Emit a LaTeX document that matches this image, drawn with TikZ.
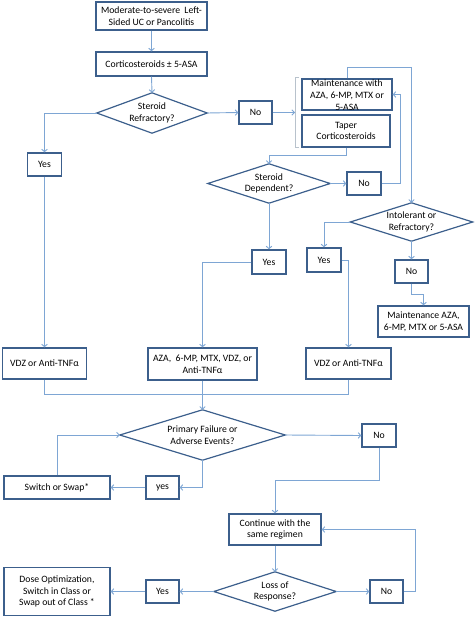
\documentclass[tikz,border=0pt]{standalone}
\usepackage{fontspec}
\setmainfont{Carlito}
\usetikzlibrary{arrows.meta}
\definecolor{boxc}{HTML}{3C5F8C}
\definecolor{connc}{HTML}{7EA6D4}
\definecolor{brkc}{HTML}{B8C2CC}
\begin{document}
\begin{tikzpicture}[x=1pt,y=-1pt,
  font=\fontsize{9.7}{11.7}\selectfont,
  box/.style={draw=boxc,line width=1.2pt,rectangle,align=center,inner sep=1pt,fill=white},
  dia/.style={rectangle,align=center,inner sep=0pt},
  diaedge/.style={draw=boxc,line width=1.2pt,line join=miter},
  lbl/.style={align=center,inner sep=0pt},
  conn/.style={draw=connc,line width=0.9pt,-{Straight Barb[length=2.6pt,width=5.5pt]}},
  link/.style={draw=connc,line width=0.9pt}]
\useasboundingbox (0,0) rectangle (474,617);
% nodes
\node[box,minimum width=111,minimum height=28] (b1) at (151.5,16) {Moderate-to-severe\ \ Left-\\Sided UC or Pancolitis};
\node[box,minimum width=111,minimum height=24] (b2) at (151.5,64) {Corticosteroids ± 5-ASA};
\node[dia,minimum width=110,minimum height=40] (d1) at (152,113) {Steroid\\Refractory?};
\node[box,minimum width=33,minimum height=23] (no1) at (255.5,112.5) {No};
\node[box,minimum width=90,minimum height=31] (maint) at (347,94.5) {};
\node[lbl] (maintt) at (347,95) {Maintenance with\\AZA, 6-MP, MTX or\\5-ASA};
\node[box,minimum width=88,minimum height=32] (taper) at (346,131) {Taper\\Corticosteroids};
\coordinate (brk) at (295,112.5);
\node[box,minimum width=34,minimum height=23] (yes1) at (44.5,164.5) {Yes};
\node[dia,minimum width=122,minimum height=39] (d2) at (269,183.5) {Steroid\\Dependent?};
\node[box,minimum width=34,minimum height=23] (no2) at (364,183.5) {No};
\node[dia,minimum width=122,minimum height=38] (d3) at (411.5,222) {Intolerant or\\Refractory?};
\node[box,minimum width=34,minimum height=24] (yes2) at (269,262) {Yes};
\node[box,minimum width=34,minimum height=24] (yes3) at (324,260) {Yes};
\node[box,minimum width=33,minimum height=23] (no3) at (411.5,271.5) {No};
\node[box,minimum width=91,minimum height=31] (maint2) at (423.5,321.5) {Maintenance AZA,\\6-MP, MTX or 5-ASA};
\node[box,minimum width=84,minimum height=31] (vdz1) at (44.5,363.5) {VDZ or Anti-TNFα};
\node[box,minimum width=109,minimum height=32] (aza) at (202.5,364) {AZA,\ \ 6-MP, MTX, VDZ, or\\Anti-TNFα};
\node[box,minimum width=85,minimum height=31] (vdz2) at (348.5,363.5) {VDZ or Anti-TNFα};
\node[dia,minimum width=165,minimum height=50] (d4) at (202.5,435) {Primary Failure or\\Adverse Events?};
\node[box,minimum width=34,minimum height=23] (no4) at (379,435.5) {No};
\node[box,minimum width=33,minimum height=23] (yes4) at (162.5,487.5) {yes};
\node[box,minimum width=106,minimum height=23] (switch) at (57,487.5) {Switch or Swap*};
\node[box,minimum width=92,minimum height=31] (cont) at (275,529.5) {Continue with the\\same regimen};
\node[dia,minimum width=122,minimum height=39] (d5) at (275,591.5) {Loss of\\Response?};
\node[box,minimum width=33,minimum height=23] (no5) at (386.5,591.5) {No};
\node[box,minimum width=33,minimum height=23] (yes5) at (162.5,591.5) {Yes};
\node[box,minimum width=106,minimum height=48] (dose) at (57,591.5) {Dose Optimization,\\Switch in Class or\\Swap out of Class *};
% diamond outlines
\foreach \d in {d1,d2,d3,d4,d5}
  \draw[diaedge] (\d.north) -- (\d.east) -- (\d.south) -- (\d.west) -- cycle;
% helper coordinates
\coordinate (c1) at (411.5,67);
\coordinate (c2) at (400,94.5);
\coordinate (m) at (202.5,394);
\coordinate (c3) at (415,529.5);
% bracket
\draw[brkc,line width=0.9pt] (299,77) -- (295,77) -- (295,147) -- (299,147);
% connectors
\draw[conn] (b1.south) -- (b2.north);
\draw[conn] (b2.south) -- (d1.north);
\draw[conn] (d1.west) -| (yes1.north);
\draw[conn] (d1.east) -- (no1.west);
\draw[conn] (no1.east) -- (brk);
\draw[conn] (taper.south) -- ++(0,8) -| (d2.north);
\draw[conn] (maint.north) |- (c1) -- (d3.north);
\draw[conn] (no2.east) -| (c2) -- (maint.east);
\draw[conn] (d2.east) -- (no2.west);
\draw[conn] (d2.south) -- (yes2.north);
\draw[conn] (d3.west) -| (yes3.north);
\draw[conn] (d3.south) -- (no3.north);
\draw[conn] (no3.south) -- ++(0,11) -| (maint2.north);
\draw[conn] (yes2.west) -| (aza.north);
\draw[conn] (yes3.east) -| (vdz2.north);
\draw[conn] (yes1.south) -- (vdz1.north);
\draw[link] (vdz1.south) |- (m);
\draw[link] (vdz2.south) |- (m);
\draw[conn] (aza.south) -- (d4.north);
\draw[conn] (d4.east) -- (no4.west);
\draw[conn] (d4.south) |- (yes4.east);
\draw[conn] (yes4.west) -- (switch.east);
\draw[conn] (switch.north) |- (d4.west);
\draw[conn] (no4.south) -- ++(0,33) -| (cont.north);
\draw[conn] (cont.south) -- (d5.north);
\draw[conn] (d5.east) -- (no5.west);
\draw[conn] (no5.east) -| (c3) -- (cont.east);
\draw[conn] (d5.west) -- (yes5.east);
\draw[conn] (yes5.west) -- (dose.east);
\end{tikzpicture}
\end{document}
